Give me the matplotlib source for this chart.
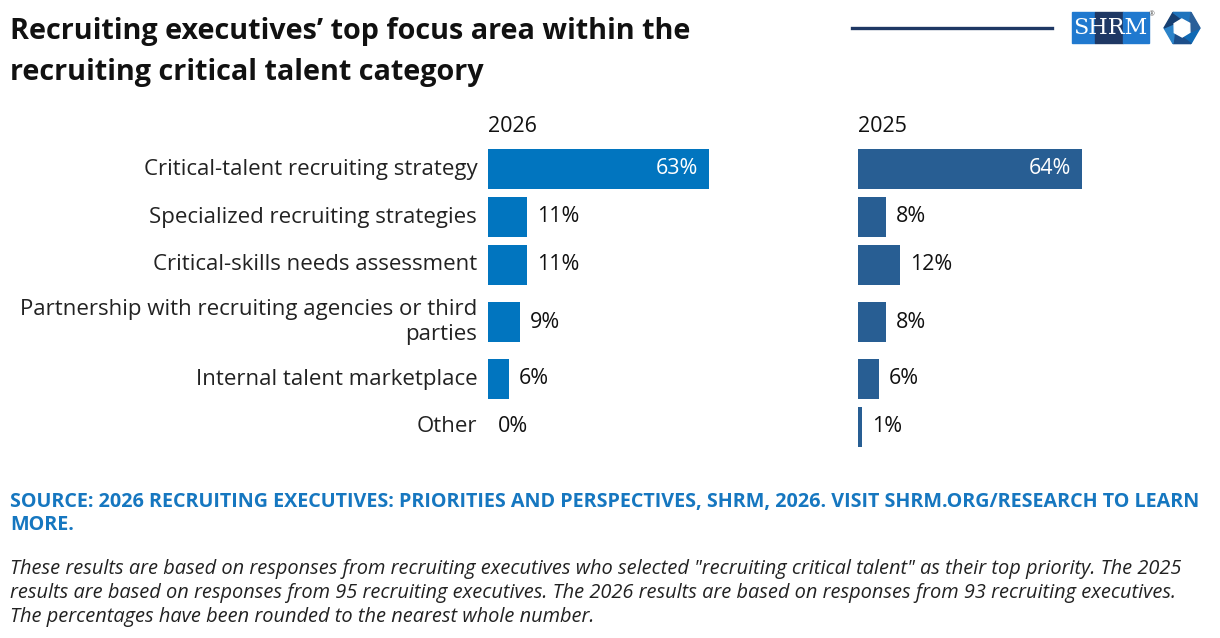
import matplotlib
matplotlib.use("Agg")
import matplotlib.pyplot as plt
from matplotlib.patches import Rectangle, Polygon
import numpy as np

plt.rcParams['font.family'] = ['Open Sans', 'DejaVu Sans']

categories = [
    "Critical-talent recruiting strategy",
    "Specialized recruiting strategies",
    "Critical-skills needs assessment",
    "Partnership with recruiting agencies or third\nparties",
    "Internal talent marketplace",
    "Other",
]
values_2026 = [63, 11, 11, 9, 6, 0]
values_2025 = [64, 8, 12, 8, 6, 1]
years = ["2026", "2025"]

title_lines = ["Recruiting executives\u2019 top focus area within the",
               "recruiting critical talent category"]
source_lines = ["SOURCE: 2026 RECRUITING EXECUTIVES: PRIORITIES AND PERSPECTIVES, SHRM, 2026. "
                "VISIT SHRM.ORG/RESEARCH TO LEARN", "MORE."]
note_lines = ["These results are based on responses from recruiting executives who selected \"recruiting critical talent\" as their top priority. The 2025",
              "results are based on responses from 95 recruiting executives. The 2026 results are based on responses from 93 recruiting executives.",
              "The percentages have been rounded to the nearest whole number."]

c2026 = "#0175bf"
c2025 = "#285e93"
navy = "#1f3864"

W, H = 1220, 638
fig = plt.figure(figsize=(W / 100, H / 100), dpi=100)


def px_axes(x0, y0, x1, y1):
    return fig.add_axes([x0 / W, 1 - y1 / H, (x1 - x0) / W, (y1 - y0) / H])


def px_lines(lines, x, y0, step, **kw):
    for i, s in enumerate(lines):
        fig.text(x / W, 1 - (y0 + i * step) / H, s, va="baseline", ha="left", **kw)


# row positions: taller rows for two-line labels
row_h = [66 if "\n" in c else 48 for c in categories]
centers = []
pos = 0
for i, h in enumerate(row_h):
    if i == 0:
        pos = h / 2
    else:
        pos += (row_h[i - 1] + h) / 2
    centers.append(pos)
total_h = sum(row_h)

top_px = 169 - centers[0]
panels = [(488, values_2026, c2026), (858, values_2025, c2025)]
scale = 3.5  # px per percent
for k, (x0, vals, col) in enumerate(panels):
    ax = px_axes(x0, top_px, x0 + 100 * scale, top_px + total_h)
    ax.barh(centers, vals, height=40, color=col)
    ax.set_xlim(0, 100)
    ax.set_ylim(total_h, 0)
    ax.axis("off")
    for v, y in zip(vals, centers):
        if v >= 30:
            ax.text(v - 3.1, y, f"{v}%", color="white", fontsize=15.5,
                    ha="right", va="center")
        else:
            ax.text(v + 2.9, y, f"{v}%", color="#111111", fontsize=15.5,
                    ha="left", va="center")
    ax.text(0, 132 - top_px, years[k], fontsize=15.5, color="#111111",
            ha="left", va="baseline")
    if k == 0:
        for c, y in zip(categories, centers):
            ax.text(-3.1, y, c, fontsize=16, color="#222222", ha="right",
                    va="center", multialignment="right", linespacing=1.22)

px_lines(title_lines, 10, 39, 41, fontsize=20.7, fontweight="bold", color="#111111")
px_lines(source_lines, 10, 507, 23.5, fontsize=14.2, fontweight="bold", color="#1677c0")
px_lines(note_lines, 10, 574, 24, fontsize=14.4, style="italic", color="#222222")

# header rule and logo
fig.add_artist(plt.Line2D([852 / W, 1052 / W], [1 - 28 / H, 1 - 28 / H],
                          color=navy, lw=2.4))
lax = px_axes(1065, 5, 1215, 50)
lax.set_xlim(1065, 1215)
lax.set_ylim(50, 5)
lax.axis("off")
for xa, xb, cc in [(1072, 1095, "#2079cf"), (1095, 1123, navy), (1123, 1149, "#2079cf")]:
    lax.add_patch(Rectangle((xa, 12), xb - xa, 31, color=cc))
lax.text(1110.5, 28.5, "SHRM", color="white", fontsize=16, family="DejaVu Serif",
         ha="center", va="center")
lax.text(1152, 15, "\u00ae", fontsize=5, color="#555555", ha="center", va="center")
cx, cy, r = 1182, 28, 18
ang = np.deg2rad(np.arange(0, 360, 60))
outer = [(cx + r * np.cos(a), cy + r * np.sin(a)) for a in ang]
inner = [(cx + 9 * np.cos(a + 0.5), cy + 9 * np.sin(a + 0.5)) for a in ang]
shades = ["#0f69b4", "#1d4f8a", "#2b83c9", "#163f72", "#1f74bd", "#2a5f99"]
for i in range(6):
    lax.add_patch(Polygon([outer[i], outer[(i + 1) % 6], inner[(i + 1) % 6], inner[i]],
                          closed=True, color=shades[i]))
lax.add_patch(Polygon(inner, closed=True, color="white"))

fig.savefig("out.png", dpi=100, facecolor="white")
